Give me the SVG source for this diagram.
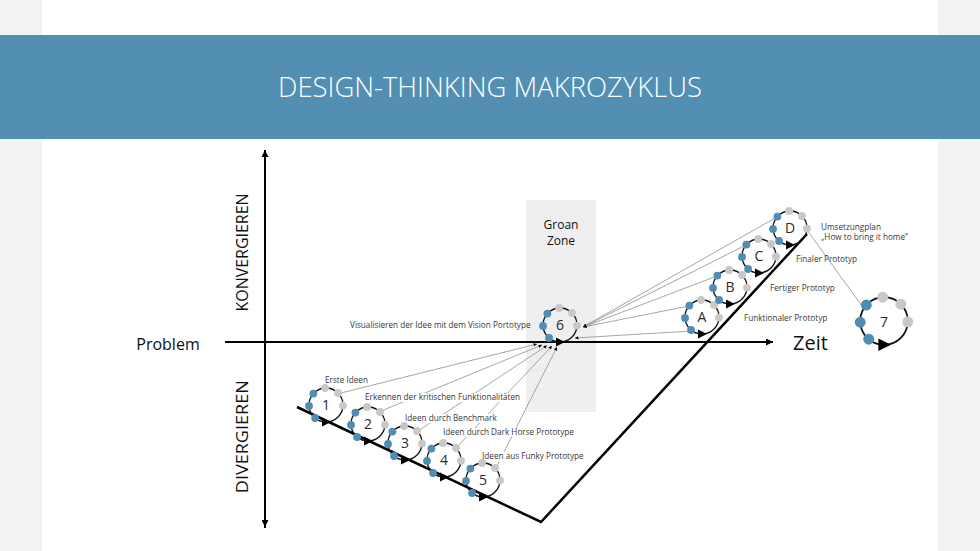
<svg xmlns="http://www.w3.org/2000/svg" xmlns:xlink="http://www.w3.org/1999/xlink" width="980" height="551" viewBox="0 0 980 551">
<style>
.lbl{font-family:"Open Sans","Liberation Sans",sans-serif;font-size:8.2px;fill:#383838}
.num{font-family:"Open Sans","Liberation Sans",sans-serif;font-size:14px;fill:#2a2a2a;text-anchor:middle}
.ax{font-family:"Open Sans","Liberation Sans",sans-serif;fill:#111}
.lead{stroke:#8f8f8f;stroke-width:0.8;fill:none}
.bg{fill:#fff}
</style>
<defs>
<marker id="ah" viewBox="0 0 10 10" refX="10" refY="5" markerWidth="7" markerHeight="7" orient="auto" markerUnits="userSpaceOnUse"><path d="M0,0L10,5L0,10z" fill="#000"/></marker>
<marker id="sm" viewBox="0 0 10 10" refX="10" refY="5" markerWidth="3.5" markerHeight="3.5" orient="auto" markerUnits="userSpaceOnUse"><path d="M0,0L10,5L0,10z" fill="#000"/></marker>
<g id="cyc">
<circle r="17" fill="none" stroke="#111" stroke-width="1.3"/>
<circle cx="-10.93" cy="13.02" r="3.9" fill="#4f8db5"/>
<circle cx="-16.98" cy="0.89" r="3.9" fill="#4f8db5"/>
<circle cx="-12.63" cy="-11.38" r="3.9" fill="#4f8db5"/>
<circle cx="-0.89" cy="-16.98" r="3.9" fill="#c8c8c8"/>
<circle cx="12.02" cy="-12.02" r="3.9" fill="#c8c8c8"/>
<circle cx="16.99" cy="0.59" r="3.9" fill="#c8c8c8"/>
<polygon points="-4,12.5 5,17 -4,21.5" fill="#000"/>
</g>
</defs>
<rect width="980" height="551" fill="#f2f2f2"/>
<rect x="42" y="0" width="896" height="551" fill="#fff"/>
<g id="banner">
<rect x="0" y="35" width="980" height="104" fill="#538fb3"/>
<text x="490" y="97" text-anchor="middle" font-family="'Open Sans','Liberation Sans',sans-serif" font-weight="300" font-size="28" fill="#fff" textLength="424" lengthAdjust="spacingAndGlyphs">DESIGN-THINKING MAKROZYKLUS</text>
</g>
<g id="groan">
<rect x="526" y="200" width="70" height="212" fill="#efefef"/>
<text x="561" y="229" text-anchor="middle" class="ax" font-size="12" fill="#333">Groan</text>
<text x="561" y="245" text-anchor="middle" class="ax" font-size="12" fill="#333">Zone</text>
</g>
<g id="axes">
<line x1="265" y1="528" x2="265" y2="150" stroke="#000" stroke-width="2" marker-end="url(#ah)"/>
<line x1="265" y1="160" x2="265" y2="527" stroke="#000" stroke-width="2" marker-end="url(#ah)"/>
<line x1="225" y1="342" x2="773" y2="342" stroke="#000" stroke-width="2" marker-end="url(#ah)"/>
<text x="168" y="350" text-anchor="middle" class="ax" font-size="16">Problem</text>
<text x="793" y="350" class="ax" font-size="20">Zeit</text>
<text transform="translate(247.5,252.5) rotate(-90)" text-anchor="middle" class="ax" font-size="16" textLength="118" lengthAdjust="spacingAndGlyphs">KONVERGIEREN</text>
<text transform="translate(247.5,436.7) rotate(-90)" text-anchor="middle" class="ax" font-size="16" textLength="113" lengthAdjust="spacingAndGlyphs">DIVERGIEREN</text>
</g>
<g id="path">
<polyline points="297,407 541,522 807,234" fill="none" stroke="#000" stroke-width="2.5"/>
</g>
<g id="connectors">
<line class="lead" x1="341" y1="393" x2="537" y2="344" marker-end="url(#sm)"/>
<line class="lead" x1="381" y1="411" x2="542" y2="345" marker-end="url(#sm)"/>
<line class="lead" x1="418" y1="431" x2="547" y2="345.5" marker-end="url(#sm)"/>
<line class="lead" x1="457" y1="447" x2="552" y2="346" marker-end="url(#sm)"/>
<line class="lead" x1="496" y1="468" x2="557" y2="347" marker-end="url(#sm)"/>
<line class="lead" x1="689" y1="306" x2="583" y2="327" marker-end="url(#sm)"/>
<line class="lead" x1="717" y1="276" x2="583" y2="327" marker-end="url(#sm)"/>
<line class="lead" x1="746" y1="245" x2="583" y2="327" marker-end="url(#sm)"/>
<line class="lead" x1="777" y1="217" x2="583" y2="327" marker-end="url(#sm)"/>
<line class="lead" x1="692" y1="331" x2="575" y2="338" marker-end="url(#sm)"/>
<line class="lead" x1="807" y1="230" x2="862" y2="306"/>
</g>
<g id="labels">
<rect class="bg" x="323" y="376" width="46" height="9"/>
<text class="lbl" x="325" y="383">Erste Ideen</text>
<rect class="bg" x="363" y="393" width="160" height="9"/>
<text class="lbl" x="365" y="400">Erkennen der kritischen Funktionalitäten</text>
<rect class="bg" x="403" y="414" width="94" height="9"/>
<text class="lbl" x="405" y="421">Ideen durch Benchmark</text>
<rect class="bg" x="441" y="428" width="134" height="9"/>
<text class="lbl" x="443" y="434.5">Ideen durch Dark Horse Prototype</text>
<rect class="bg" x="480" y="452" width="105" height="9"/>
<text class="lbl" x="482" y="458.5">Ideen aus Funky Prototype</text>
<text class="lbl" x="350" y="328">Visualisieren der Idee mit dem Vision Portotype</text>
<text class="lbl" x="821" y="230">Umsetzungplan</text>
<text class="lbl" x="821" y="240">„How to bring it home“</text>
<text class="lbl" x="796" y="262">Finaler Prototyp</text>
<text class="lbl" x="770" y="291">Fertiger Prototyp</text>
<text class="lbl" x="744" y="321">Funktionaler Prototyp</text>
</g>
<g id="c1"><use xlink:href="#cyc" transform="translate(326,405)"/><text class="num" x="326" y="410">1</text></g>
<g id="c2"><use xlink:href="#cyc" transform="translate(368,424)"/><text class="num" x="368" y="429">2</text></g>
<g id="c3"><use xlink:href="#cyc" transform="translate(405,443)"/><text class="num" x="405" y="448">3</text></g>
<g id="c4"><use xlink:href="#cyc" transform="translate(444,460)"/><text class="num" x="444" y="465">4</text></g>
<g id="c5"><use xlink:href="#cyc" transform="translate(483,480)"/><text class="num" x="483" y="485">5</text></g>
<g id="c6"><use xlink:href="#cyc" transform="translate(560,325)"/><text class="num" x="560" y="330">6</text></g>
<g id="cA"><use xlink:href="#cyc" transform="translate(702,317)"/><text class="num" x="702" y="322" font-size="12.5">A</text></g>
<g id="cB"><use xlink:href="#cyc" transform="translate(730,287)"/><text class="num" x="730" y="292" font-size="12.5">B</text></g>
<g id="cC"><use xlink:href="#cyc" transform="translate(759,256)"/><text class="num" x="759" y="261" font-size="12.5">C</text></g>
<g id="cD"><use xlink:href="#cyc" transform="translate(790,228)"/><text class="num" x="790" y="233" font-size="12.5">D</text></g>
<g id="c7"><use xlink:href="#cyc" transform="translate(884,321) scale(1.4)"/><text class="num" x="884" y="327" font-size="15">7</text></g>
</svg>
